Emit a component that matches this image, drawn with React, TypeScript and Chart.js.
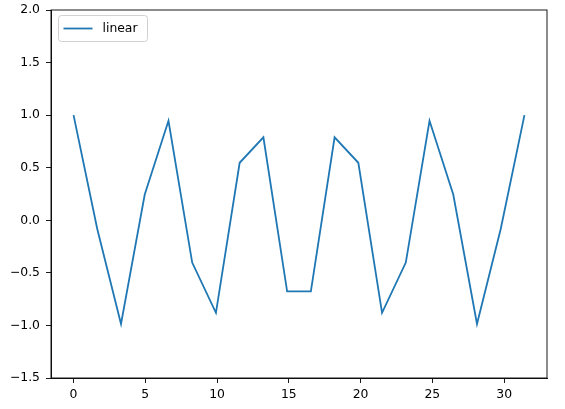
import React, { useEffect, useRef } from "react";
import { Chart, registerables } from "chart.js";

Chart.register(...registerables);

const xValues = [0, 1.653, 3.307, 4.96, 6.614, 8.267, 9.921, 11.574, 13.228, 14.881, 16.535, 18.188, 19.842, 21.495, 23.149, 24.802, 26.456, 28.109, 29.762, 31.416];
const yValues = [1.0, -0.083, -0.986, 0.245, 0.946, -0.402, -0.88, 0.547, 0.789, -0.677, -0.677, 0.789, 0.547, -0.88, -0.402, 0.946, 0.245, -0.986, -0.083, 1.0];
const xTicks = [0, 5, 10, 15, 20, 25, 30];
const yTicks = [-1.5, -1.0, -0.5, 0.0, 0.5, 1.0, 1.5, 2.0];
const seriesLabel = "linear";

const FONT = "DejaVu Sans";
const FSIZE = 12.4;

const fmt = (v: number, d: number) => {
  const s = Math.abs(v).toFixed(d);
  return v < -1e-9 ? "\u2212" + s : s;
};

const framePlugin = {
  id: "frame",
  afterDraw(chart: any) {
    const { ctx, chartArea: a } = chart;
    ctx.save();
    ctx.strokeStyle = "#000";
    ctx.lineWidth = 0.9;
    ctx.strokeRect(a.left, a.top, a.right - a.left, a.bottom - a.top);
    // legend
    const x0 = a.left + 7.5, y0 = a.top + 5.5, w = 89, h = 26, r = 3;
    ctx.beginPath();
    ctx.moveTo(x0 + r, y0);
    ctx.lineTo(x0 + w - r, y0);
    ctx.quadraticCurveTo(x0 + w, y0, x0 + w, y0 + r);
    ctx.lineTo(x0 + w, y0 + h - r);
    ctx.quadraticCurveTo(x0 + w, y0 + h, x0 + w - r, y0 + h);
    ctx.lineTo(x0 + r, y0 + h);
    ctx.quadraticCurveTo(x0, y0 + h, x0, y0 + h - r);
    ctx.lineTo(x0, y0 + r);
    ctx.quadraticCurveTo(x0, y0, x0 + r, y0);
    ctx.closePath();
    ctx.fillStyle = "rgba(255,255,255,0.8)";
    ctx.fill();
    ctx.strokeStyle = "#cccccc";
    ctx.lineWidth = 0.9;
    ctx.stroke();
    const ds = chart.data.datasets[0];
    ctx.beginPath();
    ctx.moveTo(x0 + 5, y0 + 13);
    ctx.lineTo(x0 + 34, y0 + 13);
    ctx.strokeStyle = ds.borderColor;
    ctx.lineWidth = 1.8;
    ctx.stroke();
    ctx.fillStyle = "#000";
    ctx.font = `${FSIZE}px "${FONT}"`;
    ctx.textBaseline = "middle";
    ctx.textAlign = "left";
    ctx.fillText(ds.label, x0 + 44, y0 + 13.5);
    ctx.restore();
  },
};

export default function App() {
  const ref = useRef<HTMLCanvasElement | null>(null);
  useEffect(() => {
    document.body.style.margin = "0";
    const c = ref.current!;
    const chart = new Chart(c, {
      type: "line",
      data: {
        datasets: [
          {
            label: seriesLabel,
            data: xValues.map((x, i) => ({ x, y: yValues[i] })),
            borderColor: "#1f77b4",
            borderWidth: 1.8,
            pointRadius: 0,
            tension: 0,
            fill: false,
          },
        ],
      },
      options: {
        animation: false,
        responsive: false,
        devicePixelRatio: 1,
        layout: { padding: { top: 10, right: 18, left: 0, bottom: 0 } },
        plugins: { legend: { display: false }, tooltip: { enabled: false } },
        scales: {
          x: {
            type: "linear",
            min: -1.5708,
            max: 32.987,
            afterBuildTicks: (s: any) => {
              s.ticks = xTicks.map((v) => ({ value: v }));
            },
            afterFit: (s: any) => {
              s.height = 31;
              s.paddingLeft = 0;
              s.paddingRight = 0;
            },
            grid: { drawOnChartArea: false, drawTicks: true, tickLength: 5, color: "#000", tickWidth: 0.9 },
            border: { display: true, color: "#000", width: 0.9 },
            ticks: {
              color: "#000",
              font: { family: FONT, size: FSIZE },
              padding: 4,
              maxRotation: 0,
              callback: (v: any) => fmt(Number(v), 0),
            },
          },
          y: {
            type: "linear",
            min: -1.5,
            max: 2.0,
            afterBuildTicks: (s: any) => {
              s.ticks = yTicks.map((v) => ({ value: v }));
            },
            afterFit: (s: any) => {
              s.width = 51;
              s.paddingTop = 0;
              s.paddingBottom = 0;
            },
            grid: { drawOnChartArea: false, drawTicks: true, tickLength: 5, color: "#000", tickWidth: 0.9 },
            border: { display: true, color: "#000", width: 0.9 },
            ticks: {
              color: "#000",
              font: { family: FONT, size: FSIZE },
              padding: 6,
              callback: (v: any) => fmt(Number(v), 1),
            },
          },
        },
      },
      plugins: [framePlugin],
    });
    return () => chart.destroy();
  }, []);
  return (
    <div style={{ width: 565, height: 409, background: "#fff" }}>
      <canvas ref={ref} width={565} height={409} style={{ display: "block" }} />
    </div>
  );
}
